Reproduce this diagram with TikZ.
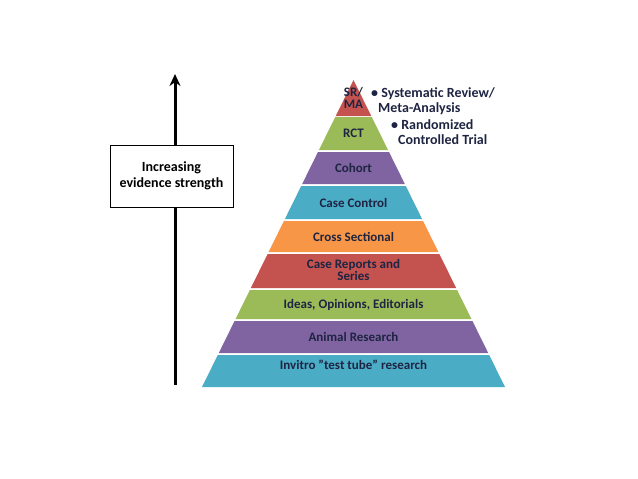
\documentclass[tikz,border=0pt]{standalone}
\usepackage{fontspec}
\usetikzlibrary{arrows.meta}
\setmainfont{Carlito}
\definecolor{pred}{RGB}{196,82,78}
\definecolor{pgreen}{RGB}{155,187,89}
\definecolor{ppurple}{RGB}{128,100,162}
\definecolor{pteal}{RGB}{75,172,198}
\definecolor{porange}{RGB}{247,150,70}
\definecolor{ptext}{RGB}{30,36,66}
\tikzset{lbl/.style={font=\fontsize{13}{12.5}\selectfont\bfseries,text=ptext,align=center,inner sep=0pt},
note/.style={font=\fontsize{14}{15}\selectfont\bfseries,text=ptext,align=left,anchor=north west,inner sep=0pt}}
\begin{document}
\begin{tikzpicture}[x=1pt,y=-1pt]
\useasboundingbox (0,0) rectangle (638,479);
\foreach \ya/\yb/\off/\col/\nm/\txt in {80/116/0/pred/l1/{SR/\\MA},117/150/0/pgreen/l2/RCT,152/184/0/ppurple/l3/Cohort,186/219/0/pteal/l4/Case Control,221/252/0/porange/l5/Cross Sectional,254/288/-1/pred/l6/{Case Reports and\\Series},290/319/0/pgreen/l7/{Ideas, Opinions, Editorials},321/353/0/ppurple/l8/Animal Research,355/387/-6/pteal/l9/{Invitro "test tube" research}}{
  \pgfmathsetmacro\ha{0.4935*(\ya-80)}
  \pgfmathsetmacro\hb{0.4935*(\yb-80)}
  \fill[\col] (353.5-\ha,\ya) -- (353.5+\ha,\ya) -- (353.5+\hb,\yb) -- (353.5-\hb,\yb) -- cycle;
  \node[lbl] (\nm) at (353.5,{(\ya+\yb)/2+\off}) {\txt};
}
\node[note] (n1) at (371,87) {\textbullet\ Systematic Review/\\\hspace{7pt}Meta-Analysis};
\node[note] (n2) at (391,119) {\textbullet\ Randomized\\\hspace{7pt}Controlled Trial};
\coordinate (abot) at (175,385);
\coordinate (atop) at (175,74);
\draw[line width=3pt,-{Stealth[length=12pt,width=11pt]}] (abot) -- (atop);
\node[draw,fill=white,line width=0.6pt,minimum width=123pt,minimum height=62pt,align=center,font=\fontsize{14}{16}\selectfont\bfseries,text=black] (box) at (171.5,176) {Increasing\\evidence strength};
\end{tikzpicture}
\end{document}
